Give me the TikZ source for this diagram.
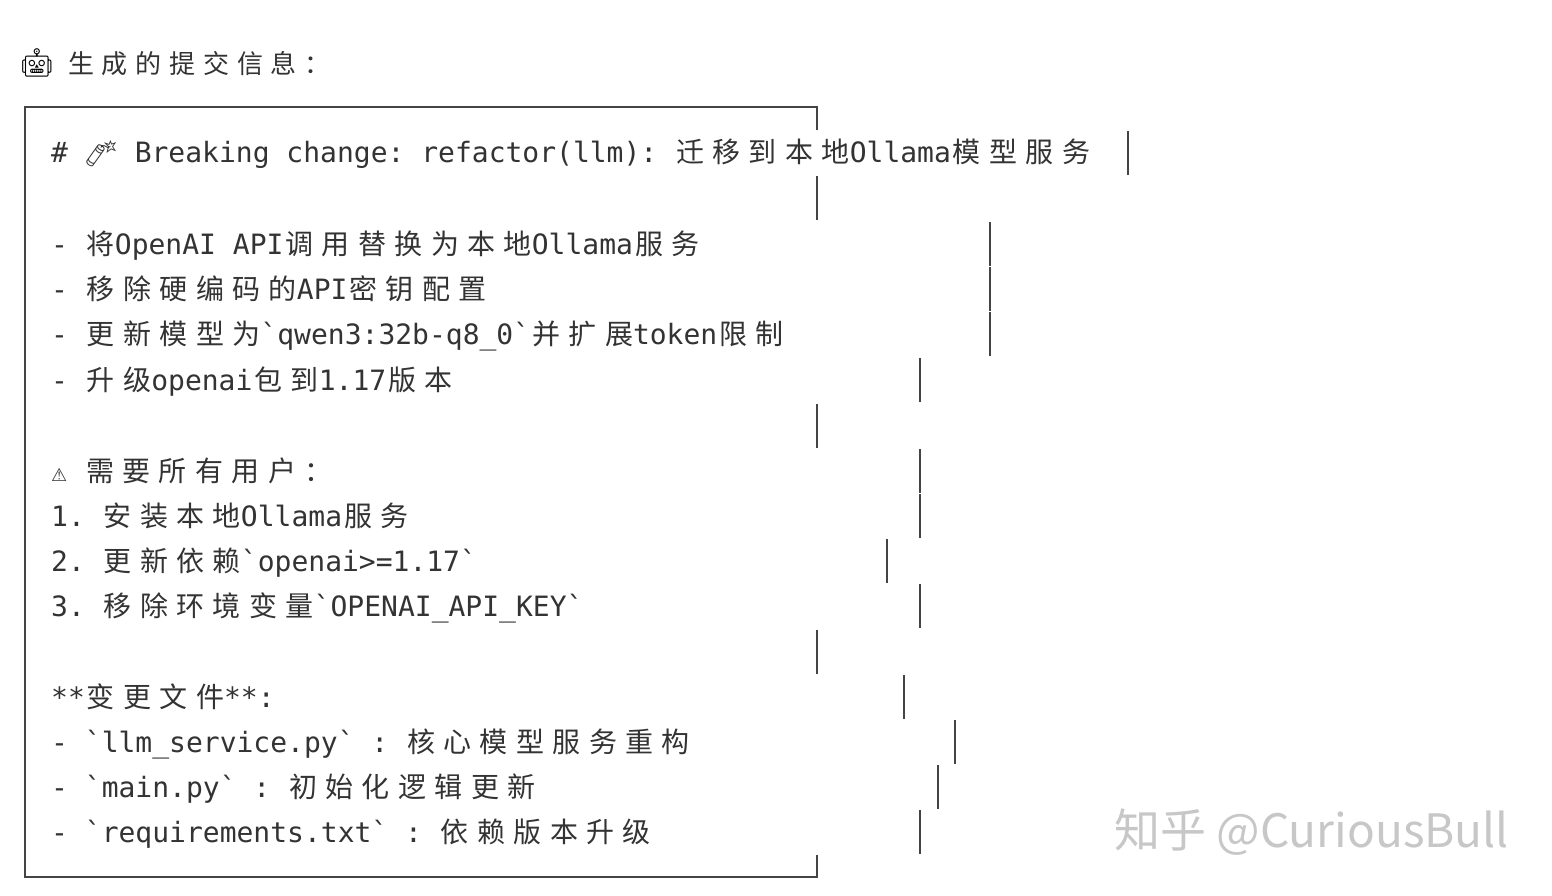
\documentclass[tikz,border=0pt]{standalone}
\usepackage{fontspec}
\setmonofont{DejaVu Sans Mono}
\newfontfamily\zhf[LetterSpace=30]{Noto Sans CJK SC}
\newfontfamily\wmf{Noto Sans CJK SC}
\newfontfamily\emo{Noto Emoji}
\newfontfamily\dvs{DejaVu Sans}
\newcommand\zz[1]{\hspace{2pt}{\zhf #1}}
\definecolor{txt}{HTML}{333333}
\definecolor{bar}{HTML}{444444}
\begin{document}
\begin{tikzpicture}[x=1pt,y=-1pt,
  ln/.style={anchor=base west,inner sep=0,font=\ttfamily\fontsize{28}{28}\selectfont,text=txt},
  rb/.style={bar,line width=2.2pt}]
\useasboundingbox[fill=white] (0,0) rectangle (1552,896);
\node[anchor=west,inner sep=0,font=\emo\fontsize{28}{28}\selectfont] (robot) at (19,63) {🤖};
\node[anchor=base west,inner sep=0,font=\zhf\fontsize{26}{26}\selectfont,text=txt] (title) at (68,74) {生成的提交信息：};
% box
\draw[bar,line width=2pt] (25,130) -- (25,107) -- (817,107) -- (817,130);
\draw[bar,line width=2pt] (25,107) -- (25,877) -- (817,877) -- (817,855);
% right bars
\foreach \y/\x in {153/1128,198/817,244/990,289/990,334/990,380/920,426/817,471/920,516/920,561/887,606/920,652/817,697/904,742/955,787/938,832/920}
  \draw[rb] (\x,\y-22) -- (\x,\y+22);
\node[ln] (l1) at (51,163) {\# {\emo\fontsize{26}{26}\selectfont 🧨} Breaking change: refactor(llm): \zz{迁移到本地}Ollama\zz{模型服务}};
\node[ln] (l3) at (51,254) {- \zz{将}OpenAI API\zz{调用替换为本地}Ollama\zz{服务}};
\node[ln] (l4) at (51,299) {- \zz{移除硬编码的}API\zz{密钥配置}};
\node[ln] (l5) at (51,344) {- \zz{更新模型为}`qwen3:32b-q8\_0`\zz{并扩展}token\zz{限制}};
\node[ln] (l6) at (51,390) {- \zz{升级}openai\zz{包到}1.17\zz{版本}};
\node[ln] (l8) at (51,481) {{\dvs\fontsize{18}{18}\selectfont ⚠} \zz{需要所有用户：}};
\node[ln] (l9) at (51,526) {1. \zz{安装本地}Ollama\zz{服务}};
\node[ln] (l10) at (51,571) {2. \zz{更新依赖}`openai>=1.17`};
\node[ln] (l11) at (51,616) {3. \zz{移除环境变量}`OPENAI\_API\_KEY`};
\node[ln] (l13) at (51,707) {**\zz{变更文件}**:};
\node[ln] (l14) at (51,752) {- `llm\_service.py` : \zz{核心模型服务重构}};
\node[ln] (l15) at (51,797) {- `main.py` : \zz{初始化逻辑更新}};
\node[ln] (l16) at (51,842) {- `requirements.txt` : \zz{依赖版本升级}};
\node[anchor=west,inner sep=0,font=\wmf\fontsize{46}{46}\selectfont,text=black!22] (wm) at (1114,832) {知乎 @CuriousBull};
\end{tikzpicture}
\end{document}
